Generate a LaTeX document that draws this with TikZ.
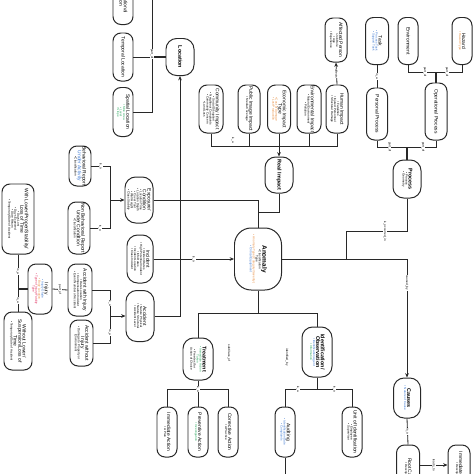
\documentclass[tikz,border=0pt]{standalone}
\usepackage{graphicx}
\usepackage{fontspec}
\setmainfont{Liberation Sans}
\usetikzlibrary{arrows.meta,calc}
\definecolor{cor}{RGB}{232,140,60}
\definecolor{cbl}{RGB}{60,120,210}
\definecolor{cgr}{RGB}{50,170,100}
\definecolor{crd}{RGB}{225,40,90}
\definecolor{ln}{RGB}{40,40,40}
\newcommand\ti{\fontsize{4.2}{4.8}\selectfont}
\newcommand\tb{\fontsize{4.6}{5.2}\selectfont\bfseries}
\newcommand\bu{\fontsize{2.6}{3}\selectfont}
\newcommand\tl[1]{\rotatebox{-90}{\bu\def\arraystretch{0.8}\begin{tabular}{@{}c@{}}#1\end{tabular}}}
\tikzset{
  box/.style={draw=ln, line width=0.85pt, rounded corners=2.4mm, fill=white, inner sep=0pt},
  bigbox/.style={box, rounded corners=3.2mm},
  sz/.style 2 args={minimum width=#1*0.3mm, minimum height=#2*0.3mm},
  conn/.style={draw=ln, line width=0.7pt},
  stem/.style={draw=ln, line width=1.4pt},
  arr/.style={conn, -{Stealth[length=1.3mm,width=1.1mm]}},
  lab/.style={fill=white, inner sep=0.4pt, font=\fontsize{2.6}{3}\selectfont, rotate=-90},
  freelab/.style={inner sep=0.4pt, font=\fontsize{2.6}{3}\selectfont, rotate=-90}
}
\begin{document}
\begin{tikzpicture}[x=0.03cm, y=-0.03cm]
\fill[white] (0,0) rectangle (474,474);
\path[use as bounding box, clip] (0,0) rectangle (474,474);

% ---------- Location group ----------
\node[box, sz={20}{55}] (orgloc) at (123,-3) {\tl{\ti Organizational\\ \ti Location}};
\node[box, sz={20}{48}] (temploc) at (123,57) {\tl{\ti Temporal Location}};
\node[box, sz={20}{49}] (spatloc) at (123,112) {\tl{\ti Spatial Location\\ \textcolor{cgr}{• Mine Area}\\ \textcolor{cgr}{• Level}\\ \textcolor{cgr}{• Stope}}};
\node[bigbox, sz={28}{37}] (location) at (180,57) {\tl{\tb Location}};

% ---------- Impacts ----------
\node[box, sz={24}{48}] (commimp) at (211,109) {\tl{\ti Community Impact\\ • Social Disruption\\ • Neighbour Complaints\\ • Community Concern\\ • Land Loss}};
\node[box, sz={22}{48}] (pubimp) at (249,109) {\tl{\ti Public Image Impact\\ • Media Coverage}};
\node[box, sz={23}{48}] (econimp) at (279,109) {\tl{\ti Economic Impact\\ \ti Type\\ \textcolor{cor}{• Cost of Damage}\\ \textcolor{cor}{• Lost Production}}};
\node[box, sz={24}{48}] (envimp) at (309,109) {\tl{\ti Environmental Impact\\ • Natural Environment\\ • Pollution}};
\node[box, sz={22}{48}] (humimp) at (337,109) {\tl{\ti Human Impact\\ • Fatalities\\ • Injured Personnel\\ • Structural Damage}};
\node[bigbox, sz={28}{36}] (realimp) at (279,175) {\tl{\tb Real Impact}};

% ---------- Process group ----------
\node[box, sz={22}{44}] (affected) at (336,40) {\tl{\ti Affected Person\\ • Job Role\\ • Age\\ • Experience}};
\node[box, sz={23}{47}] (task) at (377,41) {\tl{\ti Task\\ \textcolor{cbl}{• Process Task}\\ \textcolor{cbl}{• Support Task}}};
\node[box, sz={20}{47}] (environment) at (408,41) {\tl{\ti Environment}};
\node[box, sz={20}{47}] (hazard) at (462,41) {\tl{\ti Hazard\\ \textcolor{cor}{• Hazard Type}}};
\node[box, sz={21}{52}] (persproc) at (377,114) {\tl{\ti Personal Process}};
\node[box, sz={22}{57}] (opproc) at (436,111.5) {\tl{\ti Operational Process}};
\node[bigbox, sz={28}{38}] (process) at (407,179) {\tl{\tb Process\\ • Process\\ • Geometry}};

% ---------- Anomaly ----------
\node[box, rounded corners=5mm, sz={47}{62}] (anomaly) at (258,259) {\tl{{\fontsize{5.5}{6}\selectfont\bfseries Anomaly}\\ • Classification\\ Type\\ \textcolor{cor}{• Anomaly Type (Category/Severity)}\\ \textcolor{cbl}{• Critical Equipment}}};

% ---------- Causes ----------
\node[bigbox, sz={27}{40}] (causes) at (407,398) {\tl{\tb Causes\\ \textcolor{cbl}{• Nature of Cause}}};
\node[box, sz={23}{52}] (rootc) at (408,471) {\tl{\ti Root Cause\\ • Description}};
\node[box, sz={22}{52}] (immc) at (459,471) {\tl{\ti Immediate Cause\\ • Description}};

% ---------- Left: anomaly subclasses ----------
\node[bigbox, sz={28}{46}] (exposure) at (139,200) {\tl{\ti Exposure/\\ \ti Condition\\ • Location Time\\ • Location Depth\\ • Cover Tool\\ • Wall Height\\ • Class Stability}};
\node[box, sz={22}{40}] (behav) at (80,166) {\tl{\ti Behavioral Report\\ \textcolor{cbl}{\ti Under Activity}\\ • Classification}};
\node[box, sz={22}{52}] (nonbehav) at (79,228) {\tl{\ti Non Behavioral Report\\ \ti Under Condition\\ • Classification}};
\node[bigbox, sz={26}{48}] (incident) at (140,259) {\tl{\ti Incident\\ • Incident Dates\\ • High Potential Incident\\ • Info Dates\\ • Incident Location\\ • Class Incident}};
\node[bigbox, sz={28}{51}] (accident) at (140,316) {\tl{\ti Accident\\ • Nature Physical\\ • Nature Structural\\ • Accident Level}};
\node[box, sz={24}{52}] (accwith) at (80,290) {\tl{\ti Accident with Injury\\ • Date Location\\ • Compensation Incident\\ • Event Number of Accident}};
\node[box, sz={23}{46}] (accwo) at (81.5,343) {\tl{\ti Accident without\\ \ti Injury\\ • Damage to Property or\\ Environment}};
\node[box, sz={32}{70}] (losst) at (18,219) {\tl{\ti With Lower/Proper/Stability/\\ \ti Loss of Time\\ • Days Lost\\ • Days Expected\\ • Date Return\\ • Temporary/Date of Accident}};
\node[box, sz={24}{50}] (injury) at (40,289) {\tl{\ti Injury\\ \textcolor{cbl}{• Injury Grade}\\ \textcolor{cor}{• Body Location}\\ \textcolor{crd}{• Type of Injury/Fatality}\\ \textcolor{crd}{Type}}};
\node[box, sz={28}{58}] (noloss) at (18,341) {\tl{\ti Without Lower/\\ \ti Suspension/Loss of\\ \ti Time\\ • Temporary/Date of Accident}};

% ---------- Treatment / Identification ----------
\node[bigbox, sz={30}{42}] (treatment) at (198,359) {\tl{\tb Treatment\\ \textcolor{cgr}{• Immediate Action}\\ \textcolor{cgr}{Taken}\\ • Free-text for\\ Action of Choice}};
\node[box, sz={20}{50}] (immact) at (167,432) {\tl{\ti Immediate Action\\ • A Plan}};
\node[box, sz={20}{50}] (prevact) at (198,432) {\tl{\ti Preventive Action\\ \textcolor{cgr}{• Investigation}}};
\node[box, sz={20}{50}] (corract) at (228,432) {\tl{\ti Corrective Action\\ • A Practice}};
\node[bigbox, sz={30}{50}] (ident) at (317,352) {\tl{\tb Identification/\\ \tb Observation\\ \textcolor{cbl}{• Identification Agent}\\ \textcolor{cgr}{• Information}}};
\node[box, sz={20}{50}] (auditing) at (285,432) {\tl{\ti Auditing\\ \textcolor{cbl}{• Identification Date}\\ \textcolor{cbl}{• Complaints}}};
\node[box, sz={20}{50}] (unitid) at (352,432) {\tl{\ti Unit of Identification\\ • Employee\\ • Supervisor}};
\node[freelab] (sublab) at (229,353) {subClass\_of};
\node[freelab] (idlab) at (287,357) {identified\_by};

% ---------- coordinates ----------
\coordinate (lb) at (152,57);
\coordinate (lc) at (180,316);
\coordinate (ea) at (258,200);
\coordinate (ra) at (279,212);
\coordinate (ra2) at (258,212);
\coordinate (ar) at (407,259);
\coordinate (pa) at (407,231);
\coordinate (pb) at (346,231);
\coordinate (pc) at (346,259);
\coordinate (ib) at (279,146);
\coordinate (oj) at (436,72);
\coordinate (pj) at (407,147);
\coordinate (bb) at (110,200);
\coordinate (ab) at (110,316);
\coordinate (ij) at (18,289);
\coordinate (tb) at (258,313);
\coordinate (tj) at (198,389);
\coordinate (ij2) at (317,389);
\coordinate (ae) at (285,480);

% ---------- connectors ----------
\draw[conn] (orgloc.east) -| (lb);
\draw[conn] (spatloc.east) -| (lb);
\draw[conn] (temploc.east) -- (lb);
\draw[stem] (lb) -- (location.west);
\node[lab] at (152,54) {part\_of};
\draw[arr] (accident.east) -- (lc) -- (location.south);

\draw[conn] (exposure.east) -- (ea) -- (anomaly.north);
\draw[conn] (realimp.south) -- (ra) -- (ra2);
\draw[arr] (incident.east) -- node[lab]{is\_a} (anomaly.west);

\draw[conn] (anomaly.east) -- (ar);
\draw[arr] (ar) -- node[lab, pos=0.2]{caused\_by} (causes.north);
\draw[conn] (process.south) -- (pa) -- node[lab, pos=0.36]{is\_occurred\_in} (pb) -- (pc);

\draw[conn] (commimp.south) |- (ib);
\draw[conn] (pubimp.south) |- (ib);
\draw[conn] (econimp.south) -- (ib);
\draw[conn] (envimp.south) |- (ib);
\draw[conn] (humimp.south) |- (ib);
\node[lab] at (233,140) {is\_a};
\draw[arr] (ib) -- (realimp.north);
\draw[arr] (humimp.north) -- node[lab]{affects} (affected.south);

\draw[conn] (task.south) -- node[lab]{is\_a} (persproc.north);
\draw[conn] (environment.south) |- node[lab, pos=0.8]{part\_of} (oj);
\draw[conn] (hazard.south) |- node[lab, pos=0.79]{part\_of} (oj);
\draw[stem] (oj) -- (opproc.north);
\draw[conn] (persproc.south) |- node[lab, pos=0.71]{part\_of} (pj);
\draw[conn] (opproc.south) |- node[lab, pos=0.72]{part\_of} (pj);
\draw[stem] (pj) -- (process.north);

\draw[conn] (behav.east) -| node[lab, pos=0.25]{is\_a} (bb);
\draw[conn] (nonbehav.east) -| node[lab, pos=0.25]{is\_a} (bb);
\draw[arr] (bb) -- (exposure.west);

\draw[conn] (accwith.east) -| node[lab, pos=0.75]{is\_a} (ab);
\draw[conn] (accwo.east) -| node[lab, pos=0.69]{is\_a} (ab);
\draw[arr] (ab) -- (accident.west);

\draw[conn] (losst.south) -- node[lab]{is\_a} (ij);
\draw[conn] (ij) -- node[lab]{is\_a} (noloss.north);
\draw[stem] (ij) -- (injury.west);
\draw[conn] (injury.east) -- node[lab]{part\_of} (accwith.west);

\draw[conn] (anomaly.south) -- (tb);
\draw[conn] (treatment.north) |- (tb);
\draw[conn] (ident.north) |- (tb);

\draw[conn] (treatment.south) -- (tj);
\draw[conn] (immact.north) |- (tj);
\draw[conn] (corract.north) |- (tj);
\draw[conn] (prevact.north) -- (tj);
\node[lab] at (tj) {is\_a};

\draw[conn] (ident.south) -- (ij2);
\draw[conn] (auditing.north) |- node[lab, pos=0.7]{is\_a} (ij2);
\draw[conn] (unitid.north) |- node[lab, pos=0.75]{is\_a} (ij2);
\draw[conn] (auditing.south) -- (ae);

\draw[conn] (causes.south) -- node[lab]{is\_a} (rootc.north);
\draw[arr] ([yshift=1.8mm]rootc.east) -- node[lab]{leads\_to} ([yshift=1.8mm]immc.west);
\end{tikzpicture}
\end{document}
